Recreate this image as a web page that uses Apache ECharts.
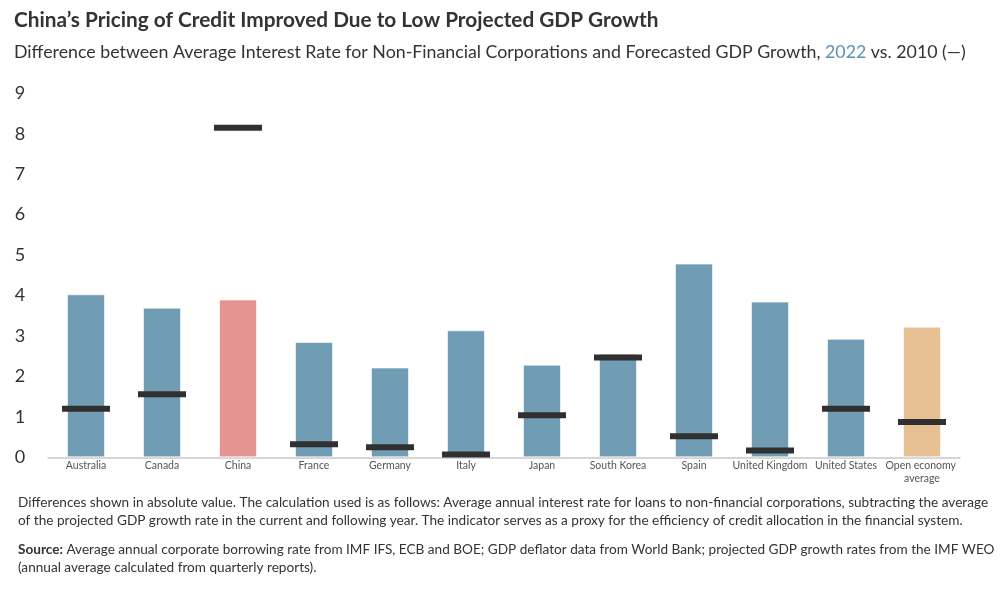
<!DOCTYPE html>
<html><head><meta charset="utf-8">
<script src="https://cdn.jsdelivr.net/npm/echarts@6/dist/echarts.min.js"></script>
<style>html,body{margin:0;padding:0;background:#fff}#c{width:1000px;height:599px}</style>
</head><body><div id="c"></div>
<script>
const categories = ['Australia','Canada','China','France','Germany','Italy','Japan','South Korea','Spain','United Kingdom','United States','Open economy average'];
const values2022 = [4.03, 3.70, 3.90, 2.85, 2.22, 3.14, 2.29, 2.56, 4.79, 3.85, 2.93, 3.23];
const values2010 = [1.20, 1.56, 8.15, 0.32, 0.25, 0.07, 1.04, 2.47, 0.52, 0.17, 1.20, 0.87];
const yTicks = [0,1,2,3,4,5,6,7,8,9];

const FONT = 'Lato, "Noto Sans", sans-serif';
const colBlue = '#709db3', colChina = '#e69491', colAvg = '#e6c093';
const barColors = categories.map(c => c === 'China' ? colChina : (c === 'Open economy average' ? colAvg : colBlue));

const chart = echarts.init(document.getElementById('c'), null, {renderer:'canvas'});
chart.setOption({
  backgroundColor:'#fff',
  textStyle:{fontFamily:FONT},
  title:[
    {text:"China’s Pricing of Credit Improved Due to Low Projected GDP Growth", left:9, top:5,
     textStyle:{fontFamily:FONT, fontSize:20.8, fontWeight:'bold', color:'#333'}},
    {text:'Difference between Average Interest Rate for Non-Financial Corporations and Forecasted GDP Growth, {b|2022} vs. 2010 (—)', left:9, top:38,
     textStyle:{fontFamily:FONT, fontSize:17.8, fontWeight:'normal', color:'#333',
       rich:{b:{fontFamily:FONT, fontSize:17.8, color:'#5b93b3'}}}},
    {text:'Differences shown in absolute value. The calculation used is as follows: Average annual interest rate for loans to non-financial corporations, subtracting the average\nof the projected GDP growth rate in the current and following year. The indicator serves as a proxy for the efficiency of credit allocation in the financial system.',
     left:13, top:489, textStyle:{fontFamily:FONT, fontSize:13.6, fontWeight:'normal', color:'#333', lineHeight:18}},
    {text:'{s|Source:} Average annual corporate borrowing rate from IMF IFS, ECB and BOE; GDP deflator data from World Bank; projected GDP growth rates from the IMF WEO\n(annual average calculated from quarterly reports).',
     left:13, top:536, textStyle:{fontFamily:FONT, fontSize:13.6, fontWeight:'normal', color:'#333', lineHeight:18,
       rich:{s:{fontFamily:FONT, fontSize:13.6, fontWeight:'bold', color:'#333'}}}}
  ],
  grid:{left:48, right:40, top:93.3, bottom:141.7, containLabel:false},
  xAxis:{type:'category', data:categories,
    axisLine:{lineStyle:{color:'#c8c8c8', width:1.5}}, axisTick:{show:false},
    axisLabel:{fontFamily:FONT, fontSize:10.5, color:'#555', margin:2, interval:0, width:78, overflow:'break', lineHeight:13}},
  yAxis:{type:'value', min:0, max:9, interval:1,
    axisLine:{show:false}, axisTick:{show:false}, splitLine:{show:false},
    axisLabel:{fontFamily:FONT, fontSize:18, color:'#333', margin:28, align:'center',
      formatter: v => yTicks.includes(v) ? String(v) : ''}},
  series:[
    {type:'bar', name:'2022', barWidth:38,
     data: values2022.map((v,i)=>({value:v, itemStyle:{color:barColors[i], borderColor:'rgba(255,255,255,0.6)', borderWidth:1}})),
     z:2},
    {type:'scatter', name:'2010', data: values2010, symbol:'rect', symbolSize:[48,6],
     itemStyle:{color:'#303030', opacity:1}, z:3}
  ]
});
</script></body></html>
